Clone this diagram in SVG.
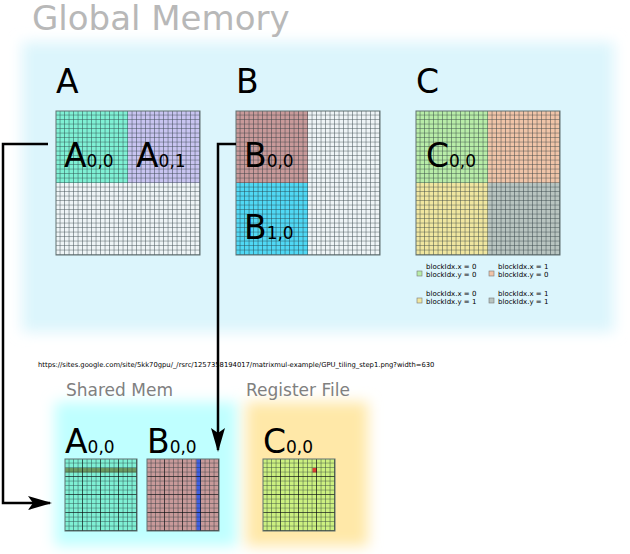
<svg xmlns="http://www.w3.org/2000/svg" width="630" height="554" viewBox="0 0 630 554">
<style>
text{font-family:"DejaVu Sans","Liberation Sans",sans-serif;fill:#000}
.big{font-size:33px}
.sub{font-size:17px}
.title{fill:#b8b8b8;font-size:34px}
.sec{fill:#808080;font-size:17px}
.leg{font-size:7px}
.conn{fill:none;stroke:#000;stroke-width:2.5}
</style>
<defs>
<filter id="bl" x="-20%" y="-20%" width="140%" height="140%"><feGaussianBlur stdDeviation="7"/></filter>
<pattern id="g" width="4.5" height="4.5" patternUnits="userSpaceOnUse"><path d="M4.5 0V4.5M0 4.5H4.5" stroke="#1a2a30" stroke-width="1" fill="none" opacity="0.8"/></pattern>
<pattern id="g2" width="18" height="18" patternUnits="userSpaceOnUse"><path d="M18 0V18M0 18H18" stroke="#000" stroke-width="0.9" fill="none"/></pattern>
<marker id="ah2" markerWidth="24" markerHeight="14" refX="22" refY="7" orient="auto" markerUnits="userSpaceOnUse" viewBox="0 0 24 14"><path d="M0 0L24 7L0 14L5 7Z" fill="#000"/></marker>
</defs>
<rect width="630" height="554" fill="#fff"/>
<rect x="22" y="42" width="592" height="290" fill="#dcf5fc" filter="url(#bl)"/>
<rect x="55" y="402" width="182" height="144" fill="#bfffff" filter="url(#bl)"/>
<rect x="246" y="402" width="122" height="144" fill="#ffe8a8" filter="url(#bl)"/>
<text class="title" x="32" y="30">Global Memory</text>
<text class="sec" x="66" y="396">Shared Mem</text>
<text class="sec" x="246" y="396">Register File</text>
<text x="38" y="367" style="font-size:6.8px">https://sites.google.com/site/5kk70gpu/_/rsrc/1257358194017/matrixmul-example/GPU_tiling_step1.png?width=630</text>

<g id="matA" transform="translate(56,111)">
<text class="big" x="0" y="-18">A</text>
<rect width="144" height="144" fill="#eef4f6"/>
<rect width="72" height="72" fill="#7ff0d4"/>
<rect x="72" width="72" height="72" fill="#c8c4f0"/>
<rect width="144" height="144" fill="url(#g)" stroke="#607070"/>
<text class="big" x="8" y="56">A<tspan class="sub">0,0</tspan></text>
<text class="big" x="80" y="56">A<tspan class="sub">0,1</tspan></text>
</g>
<g id="matB" transform="translate(236,111)">
<text class="big" x="0" y="-18">B</text>
<rect width="144" height="144" fill="#eef4f6"/>
<rect width="72" height="72" fill="#c89a9a"/>
<rect y="72" width="72" height="72" fill="#50d8f4"/>
<rect width="144" height="144" fill="url(#g)" stroke="#607070"/>
<text class="big" x="8" y="56">B<tspan class="sub">0,0</tspan></text>
<text class="big" x="8" y="128">B<tspan class="sub">1,0</tspan></text>
</g>
<g id="matC" transform="translate(416,111)">
<text class="big" x="0" y="-18">C</text>
<rect width="72" height="72" fill="#b8eca8"/>
<rect x="72" width="72" height="72" fill="#f0c4a8"/>
<rect y="72" width="72" height="72" fill="#f0e6a0"/>
<rect x="72" y="72" width="72" height="72" fill="#b8c4c0"/>
<rect width="144" height="144" fill="url(#g)" stroke="#607070"/>
<text class="big" x="10" y="56">C<tspan class="sub">0,0</tspan></text>
</g>
<g id="legend">
<rect x="417" y="271" width="5" height="5" fill="#b8eca8" stroke="#777" stroke-width="0.6"/>
<rect x="489" y="271" width="5" height="5" fill="#f0c4a8" stroke="#777" stroke-width="0.6"/>
<rect x="417" y="298" width="5" height="5" fill="#f0e6a0" stroke="#777" stroke-width="0.6"/>
<rect x="489" y="298" width="5" height="5" fill="#b8c4c0" stroke="#777" stroke-width="0.6"/>
<text class="leg" x="426" y="269">blockIdx.x = 0</text><text class="leg" x="426" y="277">blockIdx.y = 0</text>
<text class="leg" x="498" y="269">blockIdx.x = 1</text><text class="leg" x="498" y="277">blockIdx.y = 0</text>
<text class="leg" x="426" y="296">blockIdx.x = 0</text><text class="leg" x="426" y="304">blockIdx.y = 1</text>
<text class="leg" x="498" y="296">blockIdx.x = 1</text><text class="leg" x="498" y="304">blockIdx.y = 1</text>
</g>
<g id="sA" transform="translate(65,459)">
<text class="big" x="0" y="-6">A<tspan class="sub">0,0</tspan></text>
<rect width="72" height="72" fill="#7ff0d4"/>
<rect y="9" width="72" height="4.5" fill="#6a9a60"/>
<rect width="72" height="72" fill="url(#g)"/>
<rect width="72" height="72" fill="url(#g2)" stroke="#607070"/>
</g>
<g id="sB" transform="translate(147,459)">
<text class="big" x="0" y="-6">B<tspan class="sub">0,0</tspan></text>
<rect width="72" height="72" fill="#c89a9a"/>
<rect x="49.5" width="4.5" height="72" fill="#4060e0"/>
<rect width="72" height="72" fill="url(#g)"/>
<rect width="72" height="72" fill="url(#g2)" stroke="#607070"/>
</g>
<g id="sC" transform="translate(263,459)">
<text class="big" x="0" y="-6">C<tspan class="sub">0,0</tspan></text>
<rect width="72" height="72" fill="#ccf080"/>
<rect x="49.5" y="9" width="4.5" height="4.5" fill="#e04030"/>
<rect width="72" height="72" fill="url(#g)"/>
<rect width="72" height="72" fill="url(#g2)" stroke="#607070"/>
</g>
<g id="connectors">
<path class="conn" d="M48 144H3V503H50" marker-end="url(#ah2)"/>
<path class="conn" d="M236 144H218V450" marker-end="url(#ah2)"/>
</g>
</svg>
